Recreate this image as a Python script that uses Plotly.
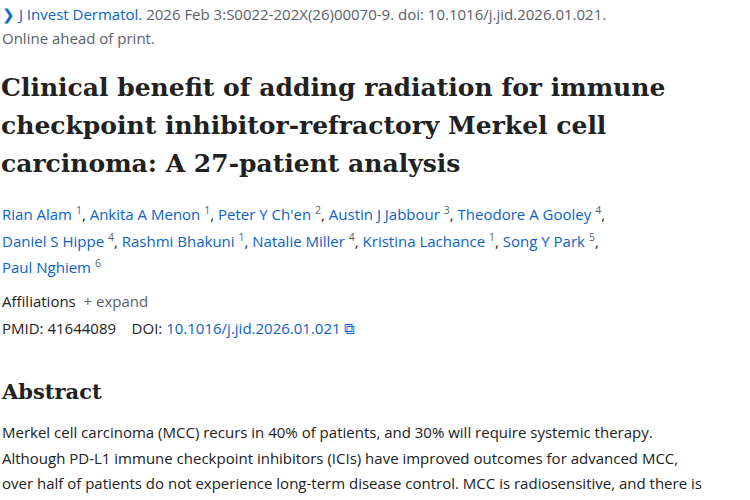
import plotly.graph_objects as go

BLUE = "#0b63c5"
DARK = "#212121"
GRAY = "#5b616b"

citation_lines = [
    f"<span style='color:{BLUE}'>❯ J Invest Dermatol.</span> 2026 Feb 3:S0022-202X(26)00070-9. doi: 10.1016/j.jid.2026.01.021.",
    "Online ahead of print.",
]
title_lines = [
    "Clinical benefit of adding radiation for immune",
    "checkpoint inhibitor-refractory Merkel cell",
    "carcinoma: A 27-patient analysis",
]
authors = [
    ("Rian Alam", "1"), ("Ankita A Menon", "1"), ("Peter Y Ch'en", "2"),
    ("Austin J Jabbour", "3"), ("Theodore A Gooley", "4"),
    ("Daniel S Hippe", "4"), ("Rashmi Bhakuni", "1"), ("Natalie Miller", "4"),
    ("Kristina Lachance", "1"), ("Song Y Park", "5"), ("Paul Nghiem", "6"),
]
author_breaks = [5, 10, 11]
abstract_lines = [
    "Merkel cell carcinoma (MCC) recurs in 40% of patients, and 30% will require systemic therapy.",
    "Although PD-L1 immune checkpoint inhibitors (ICIs) have improved outcomes for advanced MCC,",
    "over half of patients do not experience long-term disease control. MCC is radiosensitive, and there is",
]

fig = go.Figure()
W, H = 750, 500
def add(x, y, text, size=15, color=DARK, family="Open Sans, sans-serif"):
    fig.add_annotation(x=x / W, y=1 - y / H, xref="paper", yref="paper", text=text,
                       showarrow=False, xanchor="left", yanchor="middle", borderpad=0,
                       font=dict(size=size, color=color, family=family))

add(1, 14, citation_lines[0], color=GRAY)
add(1, 38, citation_lines[1], color=GRAY)
for i, t in enumerate(title_lines):
    add(0, 88 + i * 37.5, f"<b>{t}</b>", size=25, family="DejaVu Serif, serif")

start = 0
for li, end in enumerate(author_breaks):
    parts = []
    for j in range(start, end):
        name, sup = authors[j]
        sep = "," if j < len(authors) - 1 else ""
        parts.append(f"<span style='color:{BLUE}'>{name}</span> <sup><span style='color:{GRAY}'>{sup}</span></sup>{sep}")
    add(1, 214 + li * 26, " ".join(parts), color=DARK)
    start = end

add(1, 301, f"Affiliations  <span style='color:{GRAY}'>+ expand</span>", color=DARK)
add(1, 328, f"PMID: 41644089    DOI: <span style='color:{BLUE}'>10.1016/j.jid.2026.01.021 ⧉</span>", color=DARK)
add(0, 391, "<b>Abstract</b>", size=21, family="DejaVu Serif, serif")
for i, t in enumerate(abstract_lines):
    add(1, 432 + i * 25.5, t, color=DARK)

fig.update_layout(width=W, height=H, margin=dict(l=0, r=0, t=0, b=0),
                  paper_bgcolor="white", plot_bgcolor="white",
                  xaxis=dict(visible=False), yaxis=dict(visible=False))
fig.write_html("out.html", config={"displayModeBar": False},
               post_script="document.body.style.margin='0';")
